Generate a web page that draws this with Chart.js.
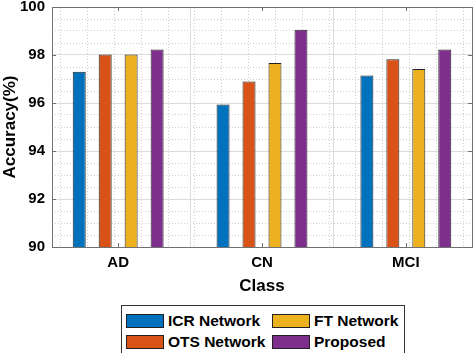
<!DOCTYPE html>
<html>
<head>
<meta charset="utf-8">
<script src="https://cdn.jsdelivr.net/npm/chart.js@4"></script>
<style>
  html, body { margin: 0; padding: 0; background: #fff; }
  #wrap { position: relative; width: 474px; height: 353px; overflow: hidden; }
  #legend { position: absolute; left: 121px; top: 305px; width: 284px; height: 60px;
    border: 1px solid #333; box-sizing: border-box; background: #fff;
    font-family: "Liberation Sans", Arial, sans-serif; font-weight: bold; font-size: 15.5px; color: #000; }
  .item { position: absolute; display: flex; align-items: center; white-space: nowrap; }
  .sw { width: 38px; height: 14px; border: 1px solid #222; margin-right: 4px; box-sizing: border-box; }
</style>
</head>
<body>
<div id="wrap">
  <canvas id="c" width="474" height="353"></canvas>
  <div id="legend"></div>
</div>
<script>
const categories = ['AD', 'CN', 'MCI'];
const seriesNames = ['ICR Network', 'OTS Network', 'FT Network', 'Proposed'];
const icrNetwork = [97.3, 95.94, 97.15];
const otsNetwork = [98.02, 96.9, 97.82];
const ftNetwork  = [98.02, 97.67, 97.42];
const proposed   = [98.23, 99.05, 98.23];
const yTicks = [90, 92, 94, 96, 98, 100];
const colors = ['#0072BD', '#D95319', '#EDB120', '#7E2F8E'];

const seriesValues = [icrNetwork, otsNetwork, ftNetwork, proposed];
const FONT = '"Liberation Sans", Arial, sans-serif';
const AXIS = '#707070';

const datasets = seriesValues.map((vals, i) => ({
  label: seriesNames[i],
  data: vals.map((v, j) => ({ x: j + 1, y: v })),
  backgroundColor: colors[i],
  borderColor: '#222',
  borderWidth: 1,
  categoryPercentage: 0.722,
  barPercentage: 0.5,
  xAxisID: 'x',
  yAxisID: 'y'
}));

const innerTicks = {
  id: 'innerTicks',
  afterDatasetsDraw(chart) {
    const { ctx, chartArea: a, scales } = chart;
    ctx.save();
    ctx.strokeStyle = AXIS;
    ctx.lineWidth = 1;
    ctx.beginPath();
    scales.y.ticks.forEach(t => {
      const py = Math.round(scales.y.getPixelForValue(t.value)) + 0.5;
      ctx.moveTo(a.left, py); ctx.lineTo(a.left + 4, py);
      ctx.moveTo(a.right, py); ctx.lineTo(a.right - 4, py);
    });
    scales.x.ticks.forEach(t => {
      const px = Math.round(scales.x.getPixelForValue(t.value)) + 0.5;
      ctx.moveTo(px, a.bottom); ctx.lineTo(px, a.bottom - 4);
      ctx.moveTo(px, a.top); ctx.lineTo(px, a.top + 4);
    });
    ctx.stroke();
    ctx.restore();
  }
};

new Chart(document.getElementById('c'), {
  type: 'bar',
  data: { datasets },
  plugins: [innerTicks],
  options: {
    responsive: false,
    animation: false,
    devicePixelRatio: 1,
    layout: { padding: { top: 0, right: 2, bottom: 56, left: 0 } },
    plugins: { legend: { display: false }, tooltip: { enabled: false } },
    scales: {
      xm: {
        type: 'linear', position: 'top', min: 0.54, max: 3.46,
        ticks: { display: false, stepSize: 0.2, includeBounds: false },
        grid: { color: '#cfcfcf', lineWidth: 1, drawTicks: false },
        border: { display: true, color: AXIS, width: 1, dash: [1, 2] },
        afterFit: s => { s.height = 0; s.paddingLeft = 0; s.paddingRight = 0; }
      },
      ym: {
        type: 'linear', position: 'right', min: 90, max: 100,
        ticks: { display: false, stepSize: 0.5 },
        grid: { color: '#cfcfcf', lineWidth: 1, drawTicks: false },
        border: { display: true, color: AXIS, width: 1, dash: [1, 2] },
        afterFit: s => { s.width = 0; s.paddingTop = 7; s.paddingBottom = 0; }
      },
      x: {
        type: 'linear', position: 'bottom', min: 0.54, max: 3.46, offset: false,
        afterBuildTicks: s => { s.ticks = categories.map((c, i) => ({ value: i + 1 })); },
        ticks: {
          padding: 7, includeBounds: false,
          font: { family: FONT, size: 15, weight: 'bold' }, color: '#000',
          callback: v => categories[v - 1]
        },
        grid: { color: '#dcdcdc', lineWidth: 1, drawTicks: false },
        border: { display: true, color: AXIS, width: 1 },
        title: { display: true, text: 'Class', color: '#000',
          font: { family: FONT, size: 17, weight: 'bold' }, padding: { top: 0, bottom: 0 } },
        afterFit: s => { s.height = 50; s.paddingLeft = 0; s.paddingRight = 0; }
      },
      y: {
        type: 'linear', position: 'left', min: 90, max: 100,
        afterBuildTicks: s => { s.ticks = yTicks.map(v => ({ value: v })); },
        ticks: { padding: 7, font: { family: FONT, size: 15, weight: 'bold' }, color: '#000' },
        grid: { color: '#dcdcdc', lineWidth: 1, drawTicks: false },
        border: { display: true, color: AXIS, width: 1 },
        title: { display: true, text: 'Accuracy(%)', color: '#000',
          font: { family: FONT, size: 17, weight: 'bold' }, padding: { top: 0, bottom: 0 } },
        afterFit: s => { s.width = 52; s.paddingTop = 7; s.paddingBottom = 0; }
      }
    }
  }
});

const legend = document.getElementById('legend');
const pos = [[0, 0], [1, 0], [0, 1], [1, 1]]; // [row, col] per series index (column-major legend)
seriesNames.forEach((name, i) => {
  const el = document.createElement('div');
  el.className = 'item';
  el.style.left = (pos[i][1] === 0 ? 4 : 150) + 'px';
  el.style.top = (pos[i][0] === 0 ? 6 : 27) + 'px';
  el.innerHTML = '<div class="sw" style="background:' + colors[i] + '"></div><span>' + name + '</span>';
  legend.appendChild(el);
});
</script>
</body>
</html>
